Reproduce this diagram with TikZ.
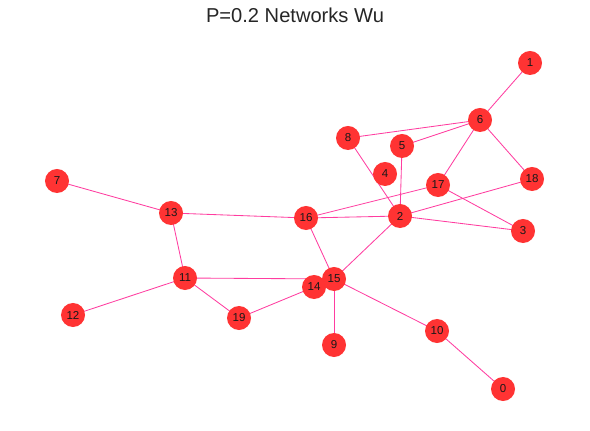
\documentclass[tikz,border=0pt]{standalone}
\usepackage{fontspec}
\setmainfont{Liberation Sans}
\usepackage{tikz}
\usetikzlibrary{backgrounds}
\definecolor{nred}{HTML}{FF3333}
\definecolor{epink}{HTML}{FF3DA0}
\definecolor{tgray}{HTML}{262626}

\begin{document}
\begin{tikzpicture}[
  x=0.025cm,y=-0.025cm,
  vert/.style={circle,fill=nred,minimum size=0.6cm,inner sep=0pt,
    font=\fontsize{8.2}{9}\selectfont,text=black!90},
  edge/.style={draw=epink,line width=0.6pt}]
  \useasboundingbox (0,0) rectangle (590,431);
  \node[font=\fontsize{14.3}{16}\selectfont,text=tgray] (title) at (295,15) {P=0.2 Networks Wu};
  % vertices
  \node[vert] (n1) at (530,63) {1};
  \node[vert] (n6) at (480,120) {6};
  \node[vert] (n8) at (348,138) {8};
  \node[vert] (n5) at (402,146) {5};
  \node[vert] (n4) at (385,174) {4};
  \node[vert] (n17) at (438,185) {17};
  \node[vert] (n18) at (532,179) {18};
  \node[vert] (n2) at (400,216) {2};
  \node[vert] (n3) at (523,231) {3};
  \node[vert] (n16) at (306,218) {16};
  \node[vert] (n13) at (171,213) {13};
  \node[vert] (n7) at (57,181) {7};
  \node[vert] (n11) at (185,278) {11};
  \node[vert] (n14) at (314,287) {14};
  \node[vert] (n15) at (334,279) {15};
  \node[vert] (n12) at (73,315) {12};
  \node[vert] (n19) at (239,318) {19};
  \node[vert] (n9) at (334,345) {9};
  \node[vert] (n10) at (437,331) {10};
  \node[vert] (n0) at (503,389) {0};
  % edges, behind the vertices
  \begin{pgfonlayer}{background}
  \foreach \a/\b in {1/6,6/8,6/5,6/17,6/18,8/2,5/2,17/16,17/3,18/2,2/16,2/3,2/15,
      7/13,13/16,13/11,16/15,11/15,11/12,11/19,19/14,14/15,15/9,15/10,10/0}
    \draw[edge] (n\a.center) -- (n\b.center);
  \end{pgfonlayer}
\end{tikzpicture}
\end{document}
